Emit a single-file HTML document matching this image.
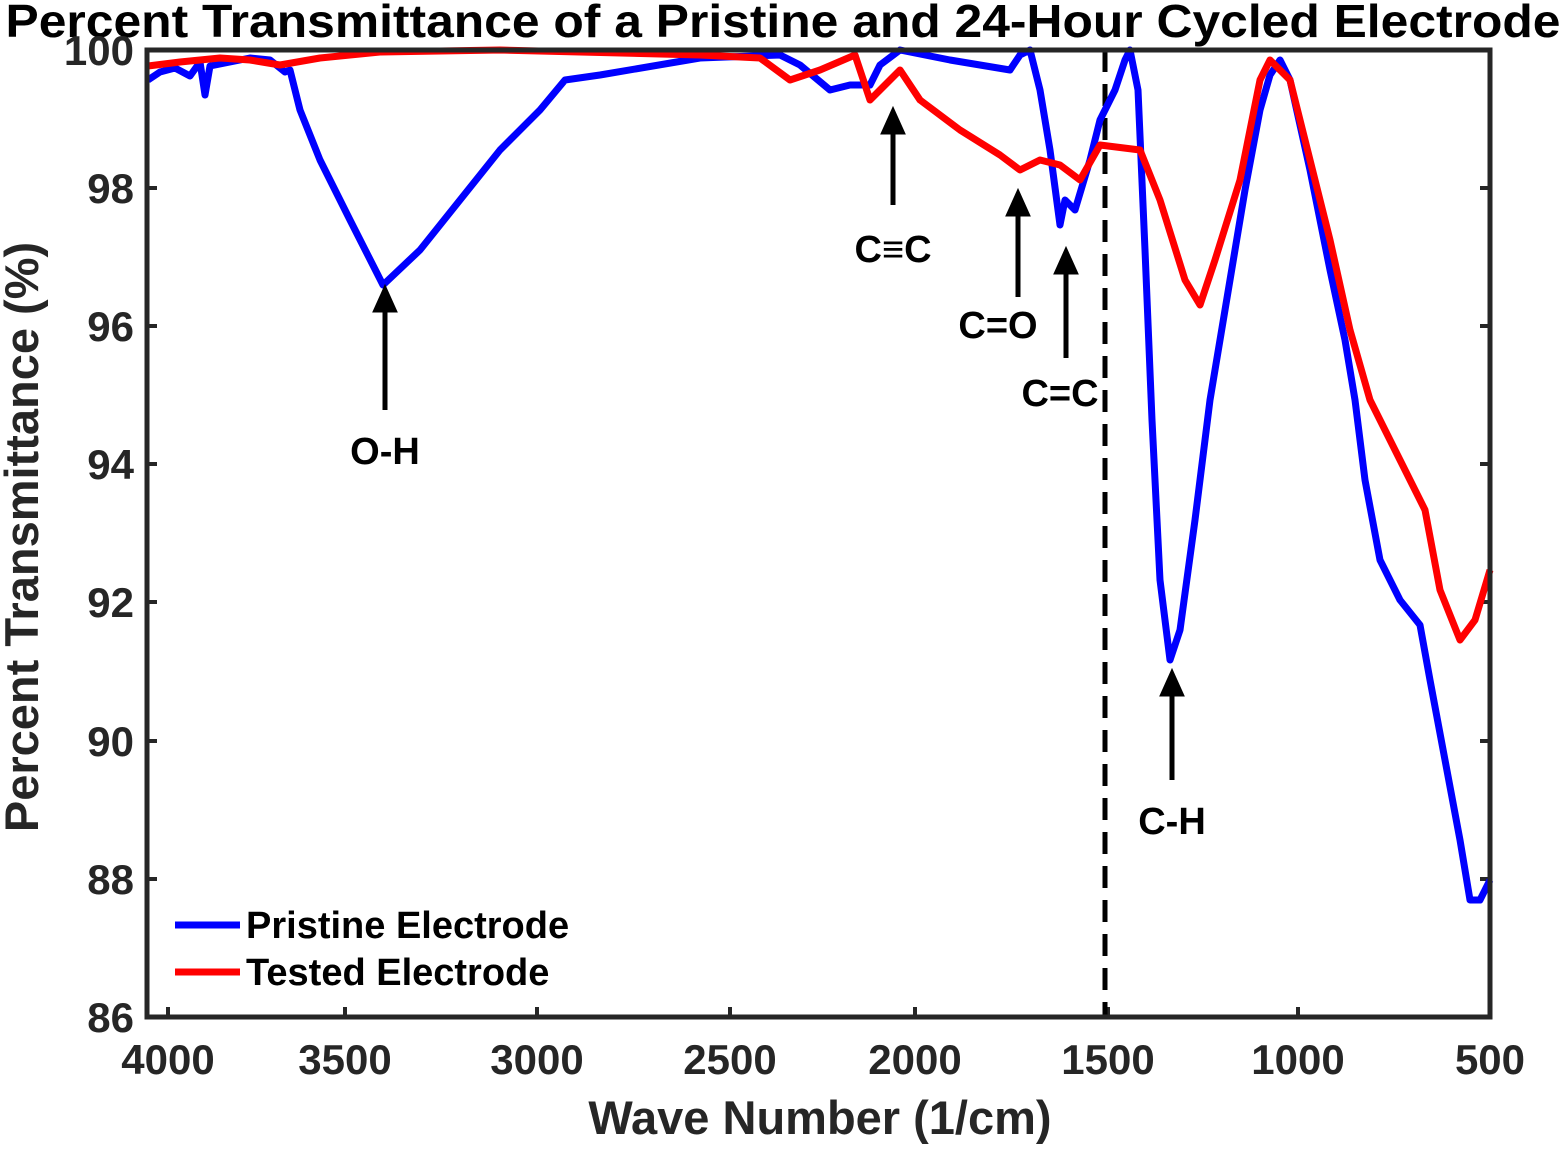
<!DOCTYPE html><html><head><style>body{margin:0;background:#fff}</style></head><body>
<svg width="1566" height="1146" xmlns="http://www.w3.org/2000/svg" font-family="Liberation Sans, sans-serif" font-weight="bold">
<text x="783" y="37" text-anchor="middle" font-size="46" fill="#000" textLength="1555" lengthAdjust="spacingAndGlyphs">Percent Transmittance of a Pristine and 24-Hour Cycled Electrode</text>
<g stroke="#262626" stroke-width="4" fill="none">
<path d="M168 1017v-10M345 1017v-10M537 1017v-10M730 1017v-10M915 1017v-10M1108 1017v-10M1298 1017v-10M1490 1017v-10"/>
<path d="M147 188h10M147 326h10M147 464h10M147 602h10M147 741h10M147 879h10M1490 188h-10M1490 326h-10M1490 464h-10M1490 602h-10M1490 741h-10M1490 879h-10"/>
</g>
<line x1="1105" y1="50" x2="1105" y2="1017" stroke="#000" stroke-width="5" stroke-dasharray="22,12"/>
<g fill="none" stroke-width="7" stroke-linejoin="round">
<polyline stroke="#0000ff" points="148,80 160,72 175,68 190,76 200,62 205,95 210,66 230,62 250,58 270,60 285,72 290,70 300,110 320,160 350,220 383,285 420,250 460,200 500,150 540,110 565,80 600,75 700,58 780,55 800,65 830,90 850,85 870,85 880,65 900,50 950,60 1010,70 1020,55 1030,50 1040,90 1050,150 1060,225 1065,200 1075,210 1090,160 1100,120 1115,90 1125,60 1130,50 1138,90 1145,250 1152,420 1160,580 1170,660 1180,630 1195,520 1210,400 1230,280 1245,190 1260,110 1270,75 1280,60 1290,80 1310,170 1330,270 1345,340 1355,400 1365,480 1380,560 1400,600 1420,625 1430,680 1445,760 1460,840 1470,900 1480,900 1490,880"/>
<polyline stroke="#ff0000" points="148,66 180,62 220,58 250,60 280,65 320,58 380,52 500,50 700,55 760,58 790,80 820,70 855,55 870,100 900,70 920,100 960,130 1000,155 1020,170 1040,160 1060,165 1080,180 1100,145 1140,150 1160,200 1185,280 1200,305 1215,260 1240,180 1260,80 1270,60 1290,80 1330,240 1350,330 1370,400 1400,460 1425,510 1440,590 1460,640 1475,620 1490,570"/>
</g>
<rect x="147" y="50" width="1343" height="967" fill="none" stroke="#262626" stroke-width="5"/>
<g stroke="#000" stroke-width="5" fill="#000">
<line x1="385" y1="410" x2="385" y2="305"/><path d="M376 310L385 290L394 310Z"/>
<line x1="893" y1="205" x2="893" y2="128"/><path d="M884 132L893 112L902 132Z"/>
<line x1="1018" y1="297" x2="1018" y2="210"/><path d="M1009 214L1018 194L1027 214Z"/>
<line x1="1066" y1="358" x2="1066" y2="268"/><path d="M1057 272L1066 252L1075 272Z"/>
<line x1="1172" y1="780" x2="1172" y2="690"/><path d="M1163 694L1172 674L1181 694Z"/>
</g>
<g font-size="38" fill="#000" text-anchor="middle">
<text x="385" y="464">O-H</text><text x="893" y="262">C≡C</text><text x="998" y="338">C=O</text><text x="1060" y="406">C=C</text><text x="1172" y="834">C-H</text>
</g>
<line x1="175" y1="925" x2="240" y2="925" stroke="#0000ff" stroke-width="7"/>
<line x1="175" y1="972" x2="240" y2="972" stroke="#ff0000" stroke-width="7"/>
<g font-size="38" fill="#000"><text x="246" y="938">Pristine Electrode</text><text x="246" y="985">Tested Electrode</text></g>
<g font-size="42" fill="#262626" text-anchor="end">
<text x="134" y="65">100</text><text x="134" y="203">98</text><text x="134" y="341">96</text><text x="134" y="479">94</text><text x="134" y="617">92</text><text x="134" y="756">90</text><text x="134" y="894">88</text><text x="134" y="1032">86</text>
</g>
<g font-size="42" fill="#262626" text-anchor="middle">
<text x="168" y="1074">4000</text><text x="345" y="1074">3500</text><text x="537" y="1074">3000</text><text x="730" y="1074">2500</text><text x="915" y="1074">2000</text><text x="1108" y="1074">1500</text><text x="1298" y="1074">1000</text><text x="1490" y="1074">500</text>
</g>
<g font-size="47" fill="#262626" text-anchor="middle">
<text x="820" y="1134">Wave Number (1/cm)</text>
<text transform="translate(38,537) rotate(-90)">Percent Transmittance (%)</text>
</g>
</svg></body></html>
